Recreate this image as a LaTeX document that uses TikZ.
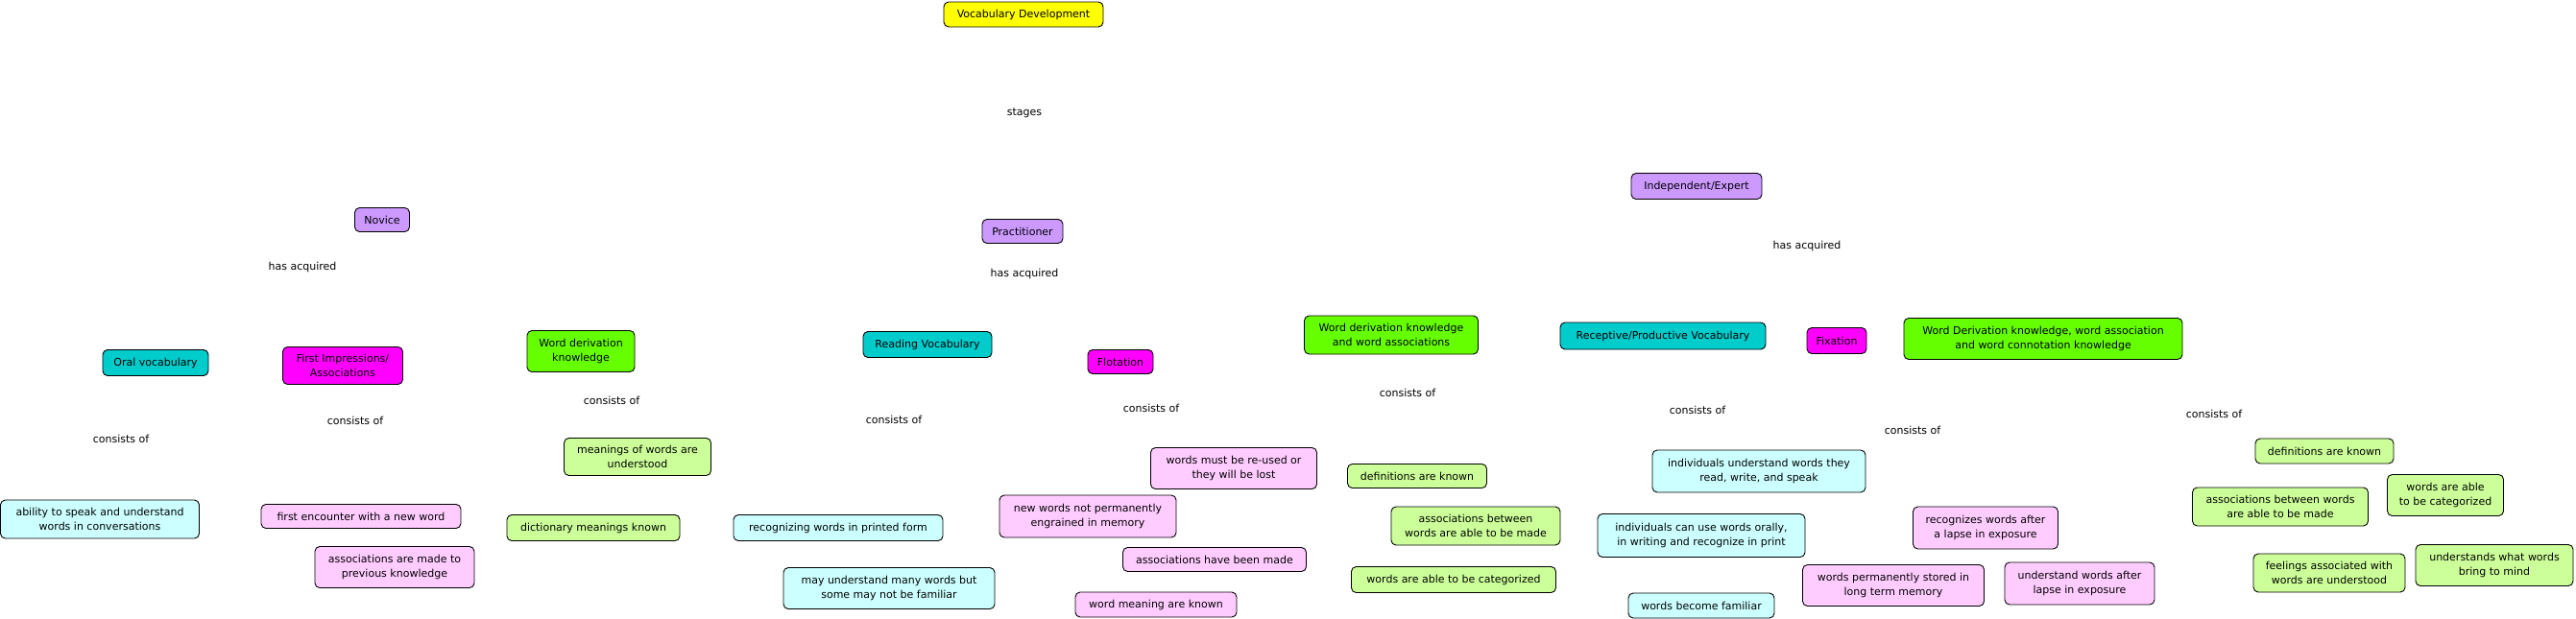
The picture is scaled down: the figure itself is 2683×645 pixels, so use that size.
\documentclass[tikz,border=0pt]{standalone}
\usepackage{fontspec}
\setmainfont{DejaVu Sans}
\usetikzlibrary{arrows.meta}
\pgfdeclarelayer{background}
\pgfsetlayers{background,main}
\definecolor{cyel}{HTML}{FFFF00}
\definecolor{cpur}{HTML}{CC99FF}
\definecolor{cteal}{HTML}{00CCCC}
\definecolor{cmag}{HTML}{FF00FF}
\definecolor{cgrn}{HTML}{66FF00}
\definecolor{lcyan}{HTML}{CCFFFF}
\definecolor{lpink}{HTML}{FFCCFF}
\definecolor{lgrn}{HTML}{CCFF99}
\begin{document}
\begin{tikzpicture}[x=1pt,y=-1pt,
  every node/.style={font=\fontsize{11}{14.5}\selectfont, align=center, inner sep=0pt},
  box/.style={draw=black, line width=0.9pt, rounded corners=5pt},
  lab/.style={fill=white, inner xsep=2pt, inner ysep=2pt},
  con/.style={draw=black, line width=0.7pt},
  arr/.style={con, -{Triangle[length=9pt,width=8pt]}},
  sz/.style 2 args={minimum width=#1pt, minimum height=#2pt}]
\useasboundingbox (0,0) rectangle (2683,645);
\fill[white] (0,0) rectangle (2683,645);
% top
\node[box,fill=cyel,sz={166}{26}] (root) at (1066,15) {Vocabulary Development};
\node[lab] (stages) at (1067,118) {stages};
\node[box,fill=cpur,sz={57}{25}] (nov) at (398,229) {Novice};
\node[box,fill=cpur,sz={84}{25}] (pra) at (1065,241) {Practitioner};
\node[box,fill=cpur,sz={136}{27}] (exp) at (1767,194) {Independent/Expert};
\node[lab] (ha1) at (315,278) {has acquired};
\node[lab] (ha2) at (1067,285) {has acquired};
\node[lab] (ha3) at (1882,256) {has acquired};
% novice
\node[box,fill=cteal,sz={110}{27}] (oral) at (162,378) {Oral vocabulary};
\node[box,fill=cmag,sz={125}{39}] (fi) at (357,381) {First Impressions/\\Associations};
\node[box,fill=cgrn,sz={112}{43}] (wd1) at (605,366) {Word derivation\\knowledge};
\node[lab] (c1) at (126,457) {consists of};
\node[lab] (c2) at (370,438) {consists of};
\node[lab] (c3) at (637,417) {consists of};
\node[box,fill=lcyan,sz={207}{40}] (abil) at (104,541) {ability to speak and understand\\words in conversations};
\node[box,fill=lpink,sz={208}{25}] (first) at (376,538) {first encounter with a new word};
\node[box,fill=lpink,sz={166}{43}] (assoc1) at (411,591) {associations are made to\\previous knowledge};
\node[box,fill=lgrn,sz={153}{39}] (mean) at (664,476) {meanings of words are\\understood};
\node[box,fill=lgrn,sz={180}{27}] (dict) at (618,550) {dictionary meanings known};
% practitioner
\node[box,fill=cteal,sz={134}{27}] (read) at (966,359) {Reading Vocabulary};
\node[box,fill=cmag,sz={68}{25}] (flot) at (1167,377) {Flotation};
\node[box,fill=cgrn,sz={181}{40}] (wd2) at (1449,349) {Word derivation knowledge\\and word associations};
\node[lab] (c4) at (931,437) {consists of};
\node[lab] (c5) at (1199,425) {consists of};
\node[lab] (c6) at (1466,409) {consists of};
\node[box,fill=lcyan,sz={218}{27}] (recog) at (873,550) {recognizing words in printed form};
\node[box,fill=lcyan,sz={220}{43}] (may) at (926,613) {may understand many words but\\some may not be familiar};
\node[box,fill=lpink,sz={184}{44}] (neww) at (1133,538) {new words not permanently\\engrained in memory};
\node[box,fill=lpink,sz={173}{43}] (must) at (1285,488) {words must be re-used or\\they will be lost};
\node[box,fill=lpink,sz={191}{25}] (ahbm) at (1265,583) {associations have been made};
\node[box,fill=lpink,sz={168}{26}] (wmak) at (1204,630) {word meaning are known};
\node[box,fill=lgrn,sz={145}{25}] (def2) at (1476,496) {definitions are known};
\node[box,fill=lgrn,sz={176}{40}] (abw2) at (1537,548) {associations between\\words are able to be made};
\node[box,fill=lgrn,sz={213}{27}] (cat2) at (1514,604) {words are able to be categorized};
% expert
\node[box,fill=cteal,sz={214}{28}] (rec) at (1732,350) {Receptive/Productive Vocabulary};
\node[box,fill=cmag,sz={62}{27}] (fix) at (1913,355) {Fixation};
\node[box,fill=cgrn,sz={290}{43}] (wd3) at (2128,353) {Word Derivation knowledge, word association\\and word connotation knowledge};
\node[lab] (c7) at (1768,427) {consists of};
\node[lab] (c8) at (1992,448) {consists of};
\node[lab] (c9) at (2306,431) {consists of};
\node[box,fill=lcyan,sz={222}{44}] (indu) at (1832,491) {individuals understand words they\\read, write, and speak};
\node[box,fill=lcyan,sz={216}{45}] (indc) at (1772,558) {individuals can use words orally,\\in writing and recognize in print};
\node[box,fill=lcyan,sz={152}{26}] (fam) at (1772,631) {words become familiar};
\node[box,fill=lpink,sz={151}{44}] (lapse) at (2068,550) {recognizes words after\\a lapse in exposure};
\node[box,fill=lpink,sz={189}{43}] (perm) at (1972,610) {words permanently stored in\\long term memory};
\node[box,fill=lpink,sz={156}{44}] (ulap) at (2166,608) {understand words after\\lapse in exposure};
\node[box,fill=lgrn,sz={144}{26}] (def3) at (2421,470) {definitions are known};
\node[box,fill=lgrn,sz={183}{40}] (abw3) at (2375,528) {associations between words\\are able to be made};
\node[box,fill=lgrn,sz={121}{43}] (cat3) at (2547,516) {words are able\\to be categorized};
\node[box,fill=lgrn,sz={158}{40}] (feel) at (2426,597) {feelings associated with\\words are understood};
\node[box,fill=lgrn,sz={164}{43}] (bring) at (2598,589) {understands what words\\bring to mind};
\begin{pgfonlayer}{background}
\draw[con] (root) -- (stages);
\draw[arr] (stages) -- (nov);
\draw[con] (stages) -- (pra);
\draw[arr] (stages) -- (exp);
\draw[con] (nov) -- (ha1);
\draw[con] (pra) -- (ha2);
\draw[con] (exp) -- (ha3);
\draw[con] (ha1) -- (oral);
\draw[con] (ha1) -- (fi);
\draw[arr] (ha1) -- (wd1);
\draw[con] (oral) -- (c1);
\draw[con] (fi) -- (c2);
\draw[con] (wd1) -- (c3);
\draw[con] (c1) -- (abil);
\draw[con] (c2) -- (first);
\draw[con] (c2) -- (assoc1);
\draw[con] (c3) -- (mean);
\draw[con] (c3) -- (dict);
\draw[con] (ha2) -- (read);
\draw[con] (ha2) -- (flot);
\draw[arr] (ha2) -- (wd2);
\draw[con] (read) -- (c4);
\draw[con] (flot) -- (c5);
\draw[con] (wd2) -- (c6);
\draw[con] (c4) -- (recog);
\draw[con] (c4) -- (may);
\draw[con] (c5) -- (neww);
\draw[con] (c5) -- (must);
\draw[con] (c5) -- (ahbm);
\draw[con] (c5) -- (wmak);
\draw[con] (c6) -- (def2);
\draw[con] (c6) -- (abw2);
\draw[con] (c6) -- (cat2);
\draw[con] (ha3) -- (rec);
\draw[con] (ha3) -- (fix);
\draw[con] (ha3) -- (wd3);
\draw[con] (rec) -- (c7);
\draw[con] (fix) -- (c8);
\draw[con] (wd3) -- (c9);
\draw[con] (c7) -- (indu);
\draw[con] (c7) -- (indc);
\draw[con] (c7) -- (fam);
\draw[con] (c8) -- (lapse);
\draw[con] (c8) -- (perm);
\draw[con] (c8) -- (ulap);
\draw[arr] (c9) -- (def3);
\draw[con] (c9) -- (abw3);
\draw[arr] (c9) -- (cat3);
\draw[con] (c9) -- (feel);
\draw[con] (c9) -- (bring);
\end{pgfonlayer}
\end{tikzpicture}
\end{document}
